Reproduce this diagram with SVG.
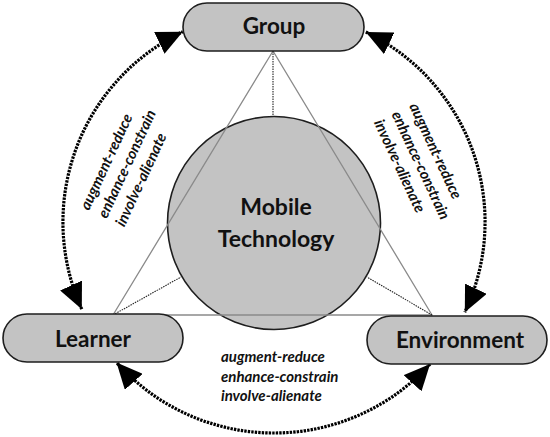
<svg xmlns="http://www.w3.org/2000/svg" width="550" height="437" viewBox="0 0 550 437">
<defs>
<style>
.pill{fill:#c3c3c3;stroke:#1e1e1e;stroke-width:1.6}
.core{fill:#c3c3c3;stroke:#1e1e1e;stroke-width:1.6}
.tri{fill:none;stroke:#8a8a8a;stroke-width:1.3}
.thin{fill:none;stroke:#222;stroke-width:1.1;stroke-dasharray:1.5 1}
.arc{fill:none;stroke:#000;stroke-width:3.2;stroke-dasharray:2.4 1.1}
.lbl{font-family:Lato,"Liberation Sans",sans-serif;font-weight:bold;fill:#111;text-anchor:middle}
.rel{font-family:Lato,"Liberation Sans",sans-serif;font-weight:bold;font-style:italic;font-size:15px;fill:#111}
</style>
<marker id="ah" viewBox="0 0 26 24" refX="26" refY="12" markerWidth="26" markerHeight="24" markerUnits="userSpaceOnUse" orient="auto-start-reverse">
<path d="M0,0 L26,12 L0,24 z" fill="#000"/>
</marker>
</defs>
<rect width="550" height="437" fill="#fff"/>
<g id="mobile-technology">
<circle class="core" cx="274" cy="223" r="106.5"/>
<text class="lbl" font-size="23" x="276" y="215">Mobile</text>
<text class="lbl" font-size="23" x="276" y="247">Technology</text>
</g>
<g id="links">
<polygon class="tri" points="273,51 113,315 432,315"/>
<line class="thin" x1="273" y1="51" x2="273" y2="117"/>
<line class="thin" x1="113" y1="315" x2="181" y2="277"/>
<line class="thin" x1="432" y1="315" x2="367" y2="277"/>
</g>
<g id="connectors">
<path class="arc" d="M81.8,309.2 A211,211 0 0 1 182.8,31.7" marker-start="url(#ah)" marker-end="url(#ah)"/>
<path class="arc" d="M365.8,32 A211,211 0 0 1 464.8,312.2" marker-start="url(#ah)" marker-end="url(#ah)"/>
<path class="arc" d="M430.1,364 A211,211 0 0 1 116.5,362.4" marker-start="url(#ah)" marker-end="url(#ah)"/>
</g>
<g id="group">
<rect class="pill" x="183" y="3" width="181" height="48" rx="24"/>
<text class="lbl" font-size="22.5" x="274" y="34">Group</text>
</g>
<g id="learner">
<rect class="pill" x="3" y="314" width="180" height="48" rx="24"/>
<text class="lbl" font-size="22.5" x="93" y="347">Learner</text>
</g>
<g id="environment">
<rect class="pill" x="367" y="316" width="180" height="48" rx="24"/>
<text class="lbl" font-size="22.5" x="460" y="348">Environment</text>
</g>
<g id="relation-labels">
<text class="rel" transform="translate(89,211) rotate(-65)"><tspan x="0" y="0">augment-reduce</tspan><tspan x="0" y="19.5">enhance-constrain</tspan><tspan x="0" y="39">involve-alienate</tspan></text>
<text class="rel" transform="translate(409,106) rotate(65)"><tspan x="0" y="0">augment-reduce</tspan><tspan x="0" y="19.5">enhance-constrain</tspan><tspan x="0" y="39">involve-alienate</tspan></text>
<text class="rel"><tspan x="221" y="362">augment-reduce</tspan><tspan x="221" y="381.5">enhance-constrain</tspan><tspan x="221" y="401">involve-alienate</tspan></text>
</g>
</svg>
